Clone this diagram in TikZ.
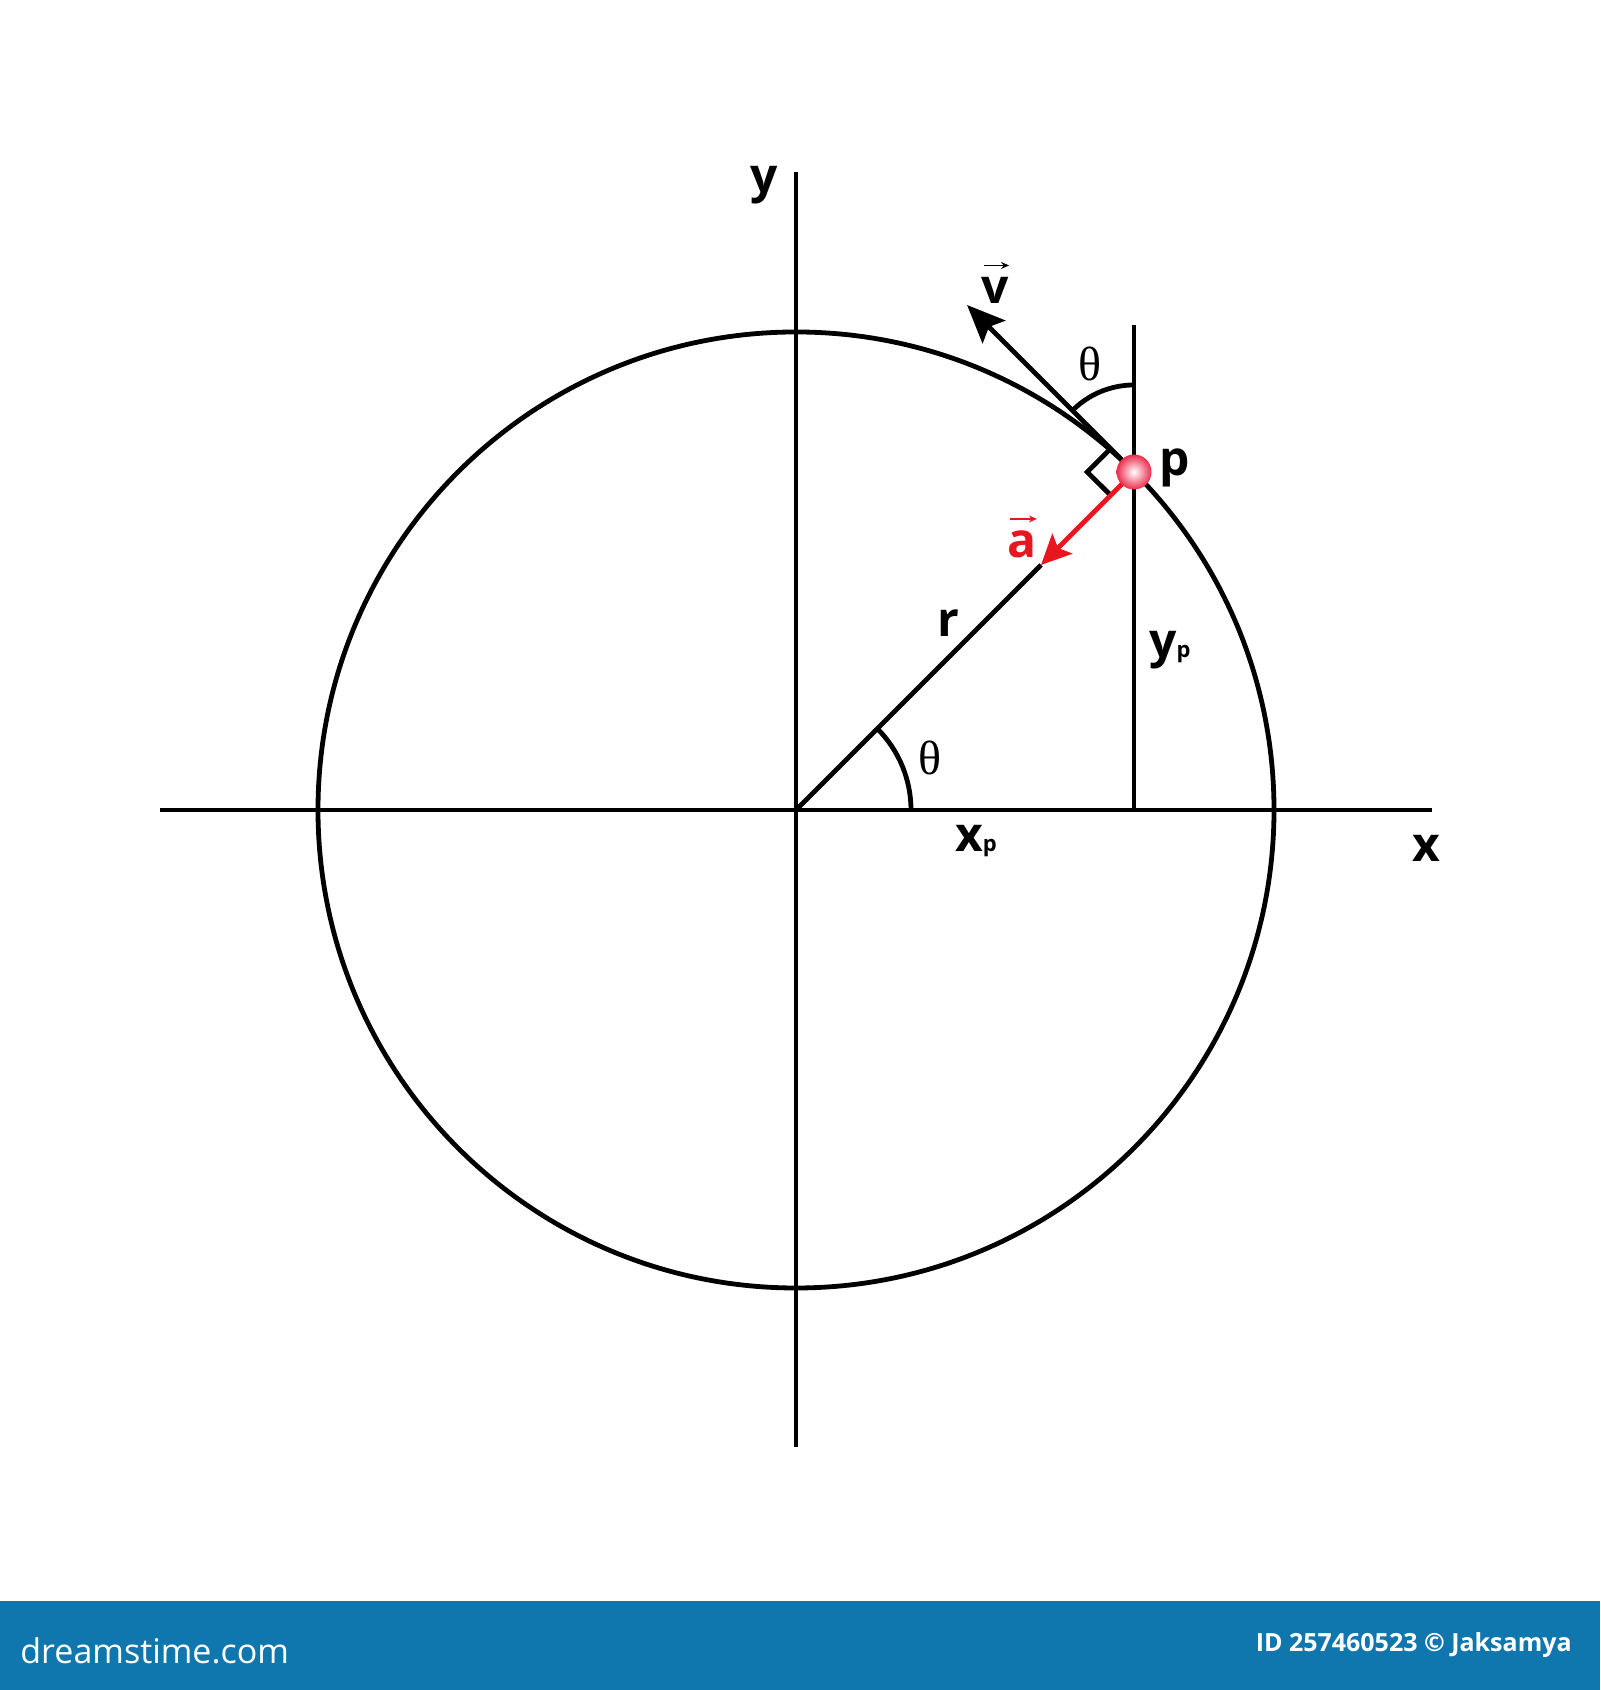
\documentclass[tikz,border=0pt]{standalone}
\usepackage{fontspec}
\setmainfont{Open Sans}
\newfontfamily\lblfont{Open Sans}
\newfontfamily\thetafont{Liberation Serif}
\usetikzlibrary{arrows.meta,calc}
\definecolor{bannerblue}{RGB}{16,118,174}
\definecolor{arrred}{RGB}{232,22,30}
\definecolor{ballred}{RGB}{234,44,76}
\newcommand{\subp}{{\fontsize{11}{11}\selectfont p}}
\begin{document}
\begin{tikzpicture}[x=0.5pt,y=0.5pt,
  axisline/.style={line width=2.4pt},
  lbl/.style={inner sep=0pt, font=\lblfont\bfseries\fontsize{24}{28}\selectfont},
  thlbl/.style={inner sep=0pt, font=\thetafont\fontsize{24}{28}\selectfont},
  vecarrow/.style={line width=0.9pt,-{Stealth[length=4pt,width=3.5pt]}},
  vtip/.style={-{Stealth[length=19pt,width=16pt,inset=3.5pt]}},
  atip/.style={-{Stealth[length=15pt,width=14pt,inset=3pt]}}]
\useasboundingbox (0,0) rectangle (1600,1690);
% background
\fill[white] (0,0) rectangle (1600,1690);
% key points
\coordinate (O) at (796,880);
\coordinate (P) at (1134,1218);
\coordinate (xL) at (160,880);
\coordinate (xR) at (1432,880);
\coordinate (yT) at (796,1518);
\coordinate (yB) at (796,243);
\coordinate (vT) at (1134,1365);
\coordinate (vB) at (1134,880);
\coordinate (Vtip) at (967,1385);
\coordinate (Atip) at (1041,1125);
% circle and axes
\draw[axisline] (O) circle (478);
\draw[axisline] (xL) -- (xR);
\draw[axisline] (yB) -- (yT);
\draw[axisline] (vT) -- (vB);
% radius
\draw[axisline] (O) -- (Atip);
% angle arcs
\draw[axisline] ($(O)+(115,0)$) arc (0:45:115);
\draw[axisline] ($(P)+(0,87)$) arc (90:135:87);
% right angle mark
\draw[axisline] ($(P)+(135:33)$) -- ($(P)+(180:46.7)$) -- ($(P)+(225:33)$);
% velocity
\draw[axisline,vtip] (P) -- (Vtip);
% acceleration
\draw[axisline,arrred,atip] (P) -- (Atip);
% ball
\shade[inner color=white, outer color=ballred] (P) circle (17.5);
% labels
\node[lbl] (lx) at (1426,842) {x};
\node[lbl] (ly) at (764,1505) {y};
\node[lbl] (lp) at (1175,1222) {p};
\node[lbl] (lr) at (948,1067) {r};
\node[lbl] (lyp) at (1170,1040) {y\subp};
\node[lbl] (lxp) at (976,849) {x\subp};
\node[lbl] (lv) at (995,1400) {v};
\draw[vecarrow] ($(lv.north west)+(3,11)$) -- ($(lv.north east)+(0,11)$);
\node[lbl,text=arrred] (la) at (1022,1146) {a};
\draw[vecarrow,arrred] ($(la.north west)+(3,11)$) -- ($(la.north east)+(0,11)$);
\node[thlbl] (th1) at (930,932) {θ};
\node[thlbl] (th2) at (1090,1326) {θ};
% banner
\fill[bannerblue] (0,0) rectangle (1600,89);
\node[inner sep=0pt,anchor=west,text=white,font=\fontsize{17}{20}\selectfont] (logo) at (20,39) {dreamstime.com};
\node[inner sep=0pt,anchor=east,text=white,font=\bfseries\fontsize{12.5}{15}\selectfont] (idtxt) at (1572,45) {ID 257460523 © Jaksamya};
\end{tikzpicture}
\end{document}
